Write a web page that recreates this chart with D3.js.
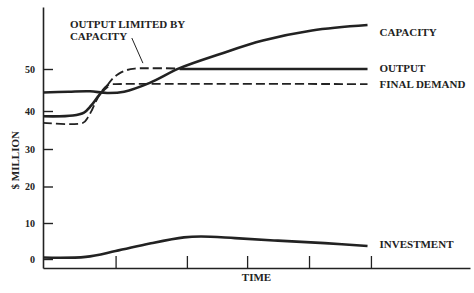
<!DOCTYPE html>
<html>
<head>
<meta charset="utf-8">
<script src="https://cdn.jsdelivr.net/npm/d3@7"></script>
<style>
  body { margin: 0; background: #fff; }
  text { font-family: "Liberation Serif", "DejaVu Serif", serif; font-weight: bold; fill: #222; }
</style>
</head>
<body>
<div id="chart"></div>
<script>
// values (time in arbitrary units, $ million)
var timeTicks = [17, 33.7, 47.8, 62.3, 76.8];
var valueTicks = [0, 10, 20, 30, 40, 50];

var capacity = [[0, 44.4], [6, 44.6], [11, 44.7], [15, 44.3], [19, 44.6], [25, 46.7],
    [32, 50.2], [41.5, 53.6], [51.5, 56.8], [63, 59.2], [76, 60.5]];
var output = [[0, 38.6], [7, 38.8], [9.6, 39.6], [11.2, 41.2], [12.7, 43.2], [14, 44.8], [15.2, 45.9],
    [20, null], [32, 50], [76, 50]];
var outputLimited = [[15, 46], [16.2, 47.6], [17.8, 48.9], [19.5, 49.7], [21.5, 50.1], [32, 50.1]];
var finalDemand = [[0, 36.9], [9.4, 36.9], [10.5, 38.3], [11.5, 40.3], [12.5, 42.5], [13.5, 44.3],
    [14.5, 45.6], [15.5, 46.3], [17, 46.4], [76, 46.4]];
var investment = [[0, 0.4], [10, 0.6], [17, 2.2], [25, 4.3], [33, 6.0], [37, 6.25], [45, 5.8],
    [55, 5.1], [66, 4.4], [76, 3.6]];

var width = 474, height = 293;
var ink = "#222";

var svg = d3.select("#chart")
  .append("svg")
    .attr("width", width)
    .attr("height", height);

var x = d3.scaleLinear().domain([0, 100]).range([43, 470]);
// the printed scale is not quite even, so follow the printed tick spacing
var y = d3.scaleLinear()
    .domain([-2.5, 0, 10, 20, 30, 40, 50, 64.8])
    .range([268, 259, 223, 186.5, 149, 111, 69, 7]);

// y axis: ticks point inward
var yAxis = d3.axisLeft(y)
    .tickValues(valueTicks)
    .tickSizeInner(-10)
    .tickSizeOuter(0)
    .tickPadding(8);
var gy = svg.append("g")
    .attr("transform", "translate(" + x(0) + ",0)")
    .call(yAxis);
gy.select(".domain").attr("stroke", ink).attr("stroke-width", 1.6);
gy.selectAll(".tick line").attr("stroke", ink).attr("stroke-width", 1.4);
gy.selectAll(".tick text")
    .style("font-size", "10px")
    .attr("fill", ink);

// x axis: unlabeled ticks pointing up
var xAxis = d3.axisBottom(x)
    .tickValues(timeTicks)
    .tickSizeInner(-12)
    .tickSizeOuter(0)
    .tickFormat("");
var gx = svg.append("g")
    .attr("transform", "translate(0," + y(-2.5) + ")")
    .call(xAxis);
gx.select(".domain").attr("stroke", ink).attr("stroke-width", 1.6);
gx.selectAll(".tick line").attr("stroke", ink).attr("stroke-width", 1.3);

var line = d3.line()
    .defined(function (d) { return d[1] !== null; })
    .x(function (d) { return x(d[0]); })
    .y(function (d) { return y(d[1]); })
    .curve(d3.curveCatmullRom.alpha(0.5));

var series = [
  { data: finalDemand, dash: "9,4", w: 1.8 },
  { data: outputLimited, dash: "9,4", w: 1.9 },
  { data: capacity, dash: null, w: 2.6 },
  { data: output, dash: null, w: 2.6 },
  { data: investment, dash: null, w: 2.6 }
];

svg.selectAll(".series")
  .data(series)
  .enter()
  .append("path")
    .attr("class", "series")
    .attr("d", function (d) { return line(d.data); })
    .attr("fill", "none")
    .attr("stroke", ink)
    .attr("stroke-width", function (d) { return d.w; })
    .attr("stroke-dasharray", function (d) { return d.dash; });

// end labels
var labels = [
  { text: "CAPACITY", data: capacity, dy: 11 },
  { text: "OUTPUT", data: output, dy: 3 },
  { text: "FINAL DEMAND", data: finalDemand, dy: 4 },
  { text: "INVESTMENT", data: investment, dy: 2 }
];
svg.selectAll(".endlabel")
  .data(labels)
  .enter()
  .append("text")
    .attr("class", "endlabel")
    .attr("x", function (d) { return x(d.data[d.data.length - 1][0]) + 12; })
    .attr("y", function (d) { return y(d.data[d.data.length - 1][1]) + d.dy; })
    .style("font-size", "11px")
    .text(function (d) { return d.text; });

// annotation for the dashed curve
var note = svg.append("text")
    .attr("x", x(6.3))
    .attr("y", y(59.7))
    .style("font-size", "11px");
note.append("tspan").text("OUTPUT LIMITED BY");
note.append("tspan").attr("x", x(6.3)).attr("dy", 12).text("CAPACITY");

svg.append("line")
    .attr("x1", x(20.8)).attr("y1", y(57.4))
    .attr("x2", x(23.4)).attr("y2", y(51.4))
    .attr("stroke", ink)
    .attr("stroke-width", 1);

// axis titles
svg.append("text")
    .attr("x", (x(0) + 470) / 2)
    .attr("y", y(-2.5) + 13)
    .attr("text-anchor", "middle")
    .style("font-size", "11px")
    .text("TIME");

svg.append("text")
    .attr("transform", "translate(18.5," + y(27) + ") rotate(-90)")
    .attr("text-anchor", "middle")
    .style("font-size", "11px")
    .text("$ MILLION");
</script>
</body>
</html>
